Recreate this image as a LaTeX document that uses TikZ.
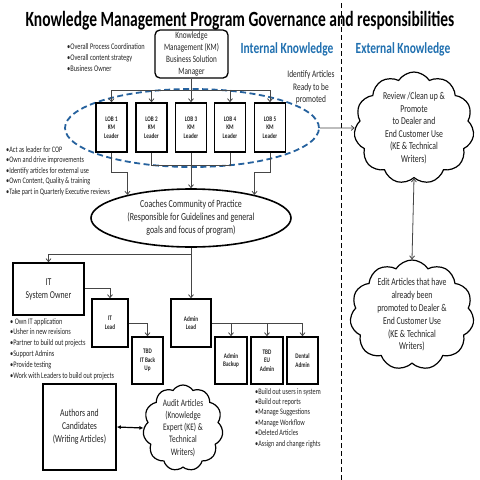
\documentclass[tikz,border=0pt]{standalone}
\usepackage{fontspec}
\setmainfont{Carlito}[FakeStretch=0.74]
\newfontfamily\titlefont{Carlito}[FakeStretch=0.715]
\usetikzlibrary{arrows.meta,shapes.geometric,shapes.symbols}
\definecolor{kmblue}{RGB}{32,112,176}
\definecolor{grpblue}{RGB}{38,98,158}
\definecolor{txt}{RGB}{38,38,38}
\definecolor{wirec}{RGB}{70,70,70}
\begin{document}
\begin{tikzpicture}[x=1pt,y=-1pt,
  wire/.style={draw=wirec, line width=0.8pt},
  conn/.style={wire, -{Straight Barb[length=3pt,width=5pt]}},
  twoway/.style={wire, {Straight Barb[length=3pt,width=5pt]}-{Straight Barb[length=3pt,width=5pt]}},
  sbox/.style={draw=black, line width=1.6pt, fill=white, inner sep=0pt, align=center, font=\fontsize{7}{8.7}\selectfont\bfseries, text=txt},
  bigbox/.style={draw=black, line width=1.6pt, fill=white, inner sep=0pt, align=center, font=\fontsize{10.5}{13}\selectfont, text=txt},
  bullets/.style={anchor=north west, inner sep=0pt, align=left, text=txt},
  cloudbox/.style={cloud, draw=black, line width=1.2pt, fill=white, cloud puffs=11, cloud puff arc=115, aspect=1, inner sep=0pt},
  cloudtext/.style={align=center, text=txt},
  heading/.style={anchor=base, text=kmblue, font=\fontsize{15.5}{18}\selectfont\bfseries},
]
\useasboundingbox (0,0) rectangle (480,480);
\fill[white] (0,0) rectangle (480,480);

% divider
\draw[black, line width=1.5pt, dash pattern=on 5pt off 3pt] (341.5,3) -- (341.5,480);

% title
\node[anchor=base, inner sep=0pt, text=black] (title) at (240,26.5)
  {\titlefont\bfseries\fontsize{21.7}{26}\selectfont Knowledge Management Program Governance and responsibilities};

\node[heading] (intk) at (287,53) {Internal Knowledge};
\node[heading] (extk) at (403,53) {External Knowledge};

% KM manager
\node[draw=black, line width=1.3pt, rounded corners=5pt, fill=white, minimum width=73pt, minimum height=48pt,
  inner sep=0pt, align=center, font=\fontsize{9.7}{12.3}\selectfont, text=txt] (km) at (191.5,54)
  {Knowledge\\Management (KM)\\Business Solution\\Manager};

\node[bullets, font=\fontsize{8.6}{11}\selectfont] (kmb) at (67,43)
  {•Overall Process Coordination\\•Overall content strategy\\•Business Owner};

\node[align=center, inner sep=0pt, text=txt, font=\fontsize{10}{12.5}\selectfont] (ident) at (311,87.5)
  {Identify Articles\\Ready to be\\promoted};

% group ellipse
\node[ellipse, draw=grpblue, line width=1.8pt, dash pattern=on 6pt off 3.5pt, minimum width=254pt, minimum height=78pt] (grp) at (192,128) {};

% LOB boxes
\node[sbox, minimum width=31pt, minimum height=49pt] (l1) at (111.5,127.5) {LOB 1\\KM\\Leader};
\node[sbox, minimum width=31pt, minimum height=49pt] (l2) at (151.5,127.5) {LOB 2\\KM\\Leader};
\node[sbox, minimum width=31pt, minimum height=49pt] (l3) at (191,127.5) {LOB 3\\KM\\Leader};
\node[sbox, minimum width=31pt, minimum height=49pt] (l4) at (230,127.5) {LOB 4\\KM\\Leader};
\node[sbox, minimum width=31pt, minimum height=49pt] (l5) at (270,127.5) {LOB 5\\KM\\Leader};

\coordinate (topbus) at (0,90);
\draw[wire] (km.south) -- (km.south |- topbus);
\draw[wire] (l1.north |- topbus) -- (l5.north |- topbus);
\foreach \n in {l1,l2,l3,l4,l5} \draw[conn] (\n.north |- topbus) -- (\n.north);

% COP
\node[ellipse, draw=black, line width=1.6pt, fill=white, minimum width=200pt, minimum height=58pt, inner sep=0pt,
  align=center, font=\fontsize{10.7}{13}\selectfont, text=txt] (cop) at (191,218)
  {Coaches Community of Practice\\(Responsible for Guidelines and general\\goals and focus of program)};

\node[bullets, font=\fontsize{8.4}{10.6}\selectfont] (copb) at (6,146)
  {•Act as leader  for COP\\•Own and drive improvements\\•Identify articles for external use\\•Own Content, Quality \& training\\•Take part in Quarterly Executive reviews};

\coordinate (lowbus) at (0,165);
\coordinate (sidebus) at (0,172);
\draw[wire] (l2.south) -- (l2.south |- lowbus) -- (l4.south |- lowbus) -- (l4.south);
\draw[conn] (l3.south) -- (cop.north);
\draw[conn] (l1.south) -- (l1.south |- sidebus) -| (cop.160);
\draw[conn] (l5.south) -- (l5.south |- sidebus) -| (cop.20);

% ellipse to review cloud
\node[cloudbox, minimum width=120pt, minimum height=112pt,
  label={[cloudtext, font=\fontsize{10.5}{12.6}\selectfont]center:Review /Clean up \&\\Promote\\to Dealer and\\End Customer Use\\(KE  \& Technical\\Writers)}] (rev) at (414,128) {};
\draw[conn] (grp.east) -- (rev.west);

\node[cloudbox, minimum width=124pt, minimum height=110pt,
  label={[cloudtext, font=\fontsize{10.5}{12.8}\selectfont]center:Edit Articles that have\\already been\\promoted to Dealer \&\\End Customer Use\\(KE  \& Technical\\Writers)}] (edit) at (412,315) {};
\draw[twoway] (rev.south) -- (edit.north);

% lower part
\coordinate (midbus) at (0,254);
\node[bigbox, minimum width=71pt, minimum height=52pt] (itown) at (48.5,289) {IT\\System Owner};
\node[sbox, minimum width=36pt, minimum height=48pt] (itlead) at (110,323) {IT\\Lead};
\node[sbox, minimum width=31pt, minimum height=47pt] (itbu) at (147.5,360.5) {TBD\\IT Back\\Up};
\node[sbox, minimum width=40pt, minimum height=48pt] (adlead) at (191,323) {Admin\\Lead};
\node[sbox, minimum width=32pt, minimum height=47pt] (adbu) at (231,360.5) {Admin\\Backup};
\node[sbox, minimum width=32pt, minimum height=47pt] (euad) at (267,360.5) {TBD\\EU\\Admin};
\node[sbox, minimum width=31pt, minimum height=47pt] (dent) at (302.5,360.5) {Dental\\Admin};

\draw[wire] (cop.south) -- (cop.south |- midbus);
\draw[conn] (cop.south |- midbus) -| (itown.north);
\draw[conn] (cop.south |- midbus) -- (adlead.north);
\draw[conn] (itown.east |- 0,288) -| (itlead.north);
\draw[conn] (itlead.east) -| (itbu.north);
\draw[wire] (adlead.east) -- (dent.north |- adlead.east);
\draw[conn] (adbu.north |- adlead.east) -- (adbu.north);
\draw[conn] (euad.north |- adlead.east) -- (euad.north);
\draw[conn] (dent.north |- adlead.east) -- (dent.north);

\node[bullets, font=\fontsize{8.5}{10.8}\selectfont] (itb) at (10,318)
  {• Own IT application\\•Usher in new revisions\\•Partner to build out  projects\\•Support Admins\\•Provide  testing\\•Work with Leaders to build out projects};

\node[bullets, font=\fontsize{8.4}{10.4}\selectfont] (adb) at (255,388)
  {•Build out users in system\\•Build out reports\\•Manage Suggestions\\•Manage Workflow\\•Deleted Articles\\•Assign and change rights};

\node[bigbox, minimum width=73pt, minimum height=86pt] (auth) at (79.5,427) {Authors and\\Candidates\\(Writing Articles)};
\node[cloudbox, minimum width=80pt, minimum height=86pt,
  label={[cloudtext, font=\fontsize{10}{12.2}\selectfont]center:Audit Articles\\(Knowledge\\Expert (KE)  \&\\Technical\\Writers)}] (audit) at (183,428) {};
\draw[draw=black, line width=1.2pt, {Latex[length=4pt,width=4pt]}-{Latex[length=4pt,width=4pt]}] (auth.east) -- (audit.west);
\end{tikzpicture}
\end{document}
